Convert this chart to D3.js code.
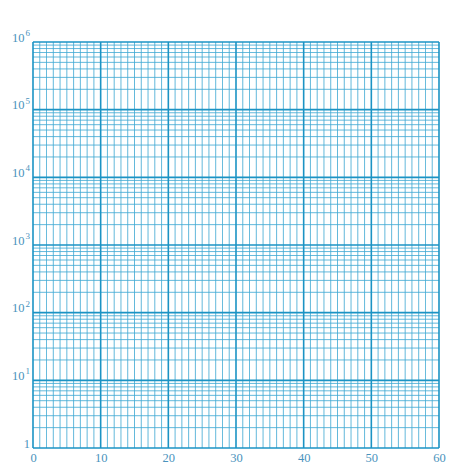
<!DOCTYPE html>
<html><head><meta charset="utf-8">
<script src="https://cdn.jsdelivr.net/npm/d3@7"></script>
<style>body{margin:0;background:#fff}</style>
</head><body>
<script>
const xDomain = [0, 60];
const yDomain = [1, 1e6];
const xMajorTicks = [0, 10, 20, 30, 40, 50, 60];
const yMajorExponents = [0, 1, 2, 3, 4, 5, 6];
const xMinorStep = 1;
const yMinorMultipliers = [2, 3, 4, 5, 6, 7, 8, 9];

const W = 474, H = 474;
const m = {left: 33, right: 35, top: 42, bottom: 26};
const svg = d3.select("body").append("svg").attr("width", W).attr("height", H);
const x = d3.scaleLinear().domain(xDomain).range([m.left, W - m.right]);
const y = d3.scaleLog().domain(yDomain).range([H - m.bottom, m.top]);

const minorColor = "#3fa9d4", majorColor = "#1b93c4";
const g = svg.append("g");

const xMinor = d3.range(xDomain[0], xDomain[1] + 0.001, xMinorStep).filter(v => !xMajorTicks.includes(v));
g.selectAll(".xm").data(xMinor).join("line")
  .attr("x1", d => x(d)).attr("x2", d => x(d))
  .attr("y1", y(yDomain[0])).attr("y2", y(yDomain[1]))
  .attr("stroke", minorColor).attr("stroke-width", 0.9).attr("opacity", 0.9);
const yMinor = [];
yMajorExponents.slice(0, -1).forEach(e => yMinorMultipliers.forEach(k => yMinor.push(k * Math.pow(10, e))));
g.selectAll(".ym").data(yMinor).join("line")
  .attr("x1", x(xDomain[0])).attr("x2", x(xDomain[1]))
  .attr("y1", d => y(d)).attr("y2", d => y(d))
  .attr("stroke", minorColor).attr("stroke-width", 0.9).attr("opacity", 0.9);
g.selectAll(".xM").data(xMajorTicks).join("line")
  .attr("x1", d => x(d)).attr("x2", d => x(d))
  .attr("y1", y(yDomain[0])).attr("y2", y(yDomain[1]))
  .attr("stroke", majorColor).attr("stroke-width", 1.6);
g.selectAll(".yM").data(yMajorExponents).join("line")
  .attr("x1", x(xDomain[0])).attr("x2", x(xDomain[1]))
  .attr("y1", d => y(Math.pow(10, d))).attr("y2", d => y(Math.pow(10, d)))
  .attr("stroke", majorColor).attr("stroke-width", 1.6);

const labelColor = "#4a93bd";
const font = "'Liberation Serif', 'Times New Roman', serif";
const xAxis = d3.axisBottom(x).tickValues(xMajorTicks).tickSize(0).tickPadding(5);
const ax = svg.append("g").attr("transform", `translate(0,${y(yDomain[0])})`).call(xAxis);
ax.select(".domain").remove();
ax.selectAll("text").attr("fill", labelColor).attr("font-family", font).attr("font-size", 12.5);

const yAxis = d3.axisLeft(y).tickValues(yMajorExponents.map(e => Math.pow(10, e))).tickSize(0).tickPadding(3).tickFormat("");
const ay = svg.append("g").attr("transform", `translate(${x(xDomain[0])},0)`).call(yAxis);
ay.select(".domain").remove();
ay.selectAll(".tick").each(function(d) {
  const e = Math.round(Math.log10(d));
  const t = d3.select(this).select("text").attr("fill", labelColor).attr("font-family", font).attr("font-size", 12.5).attr("dy", "0").attr("y", -1);
  if (e === 0) { t.text("1"); }
  else {
    t.text("");
    t.append("tspan").text("10");
    t.append("tspan").text(e).attr("font-size", 9).attr("dx", 1).attr("dy", "-0.6em");
  }
});
</script>
</body></html>
